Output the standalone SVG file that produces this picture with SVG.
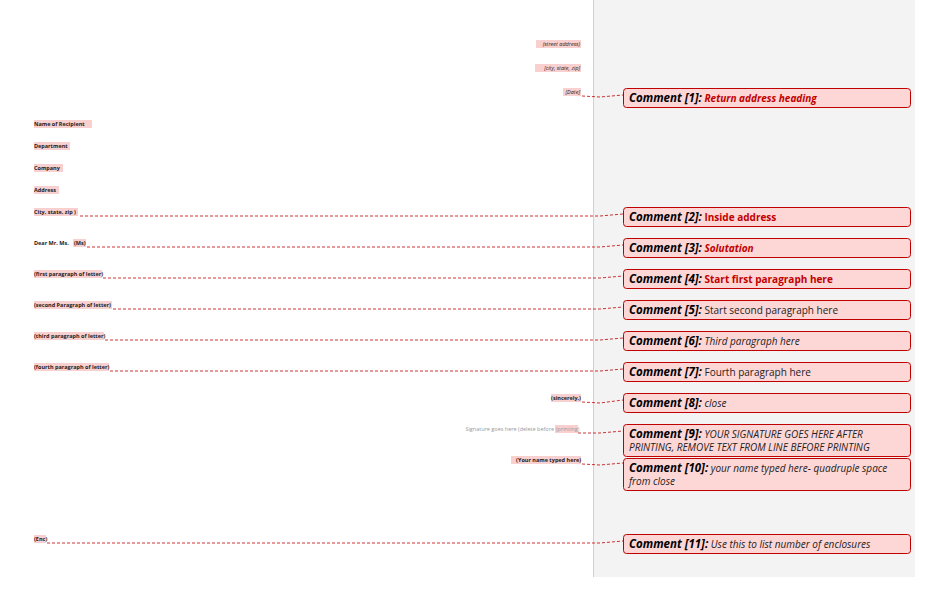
<svg xmlns="http://www.w3.org/2000/svg" width="930" height="591" viewBox="0 0 930 591">
<style>
.t{font-family:"Open Sans","DejaVu Sans",sans-serif;font-size:5.5px;fill:#222;font-weight:bold}
.i{font-style:italic;font-weight:normal}
.hl{fill:#f9d0d0}
.box{fill:#fdd6d6;stroke:#c00000;stroke-width:1}
.c{font-family:"Open Sans","DejaVu Sans",sans-serif;font-size:10px;fill:#222;font-style:italic}
.ck{font-weight:bold;font-size:11.5px;fill:#000}
.red{fill:#c00000;font-weight:bold}
.ln{fill:none;stroke:#c00000;stroke-width:0.8;stroke-dasharray:3,2}
</style>
<rect width="930" height="591" fill="#fff"/>
<rect x="593" y="0" width="322" height="577" fill="#f3f3f3"/>
<line x1="593.5" y1="0" x2="593.5" y2="577" stroke="#d0d0d0"/>
<g id="doc">
<rect class="hl" x="536" y="40" width="45" height="8"/><text class="t i" x="580" y="46" text-anchor="end">(street address)</text>
<rect class="hl" x="535" y="64" width="46" height="8"/><text class="t i" x="580" y="70" text-anchor="end">[city, state, zip]</text>
<rect class="hl" x="563" y="88" width="18" height="8"/><text class="t i" x="580" y="94" text-anchor="end">[Date]</text>
<rect class="hl" x="34" y="120" width="58" height="8"/><text class="t" x="34" y="126">Name of Recipient</text>
<rect class="hl" x="34" y="142" width="36" height="8"/><text class="t" x="34" y="148">Department</text>
<rect class="hl" x="34" y="164" width="29" height="8"/><text class="t" x="34" y="170">Company</text>
<rect class="hl" x="34" y="186" width="25" height="8"/><text class="t" x="34" y="192">Address</text>
<rect class="hl" x="34" y="208" width="44" height="8"/><text class="t" x="34" y="214">City, state, zip  )</text>
<text class="t" x="34" y="245">Dear Mr. Ms.</text><rect class="hl" x="73" y="239" width="13" height="8"/><text class="t" x="74" y="245">(Ms)</text>
<rect class="hl" x="34" y="270" width="68" height="8"/><text class="t" x="34" y="276">(first paragraph of letter)</text>
<rect class="hl" x="34" y="301" width="78" height="8"/><text class="t" x="34" y="307">(second Paragraph of letter)</text>
<rect class="hl" x="34" y="332" width="70" height="8"/><text class="t" x="34" y="338">(third paragraph of letter)</text>
<rect class="hl" x="34" y="363" width="75" height="8"/><text class="t" x="34" y="369">(fourth paragraph of letter)</text>
<rect class="hl" x="551" y="394" width="30" height="8"/><text class="t" x="581" y="400" text-anchor="end">(sincerely,)</text>
<text class="t" x="554" y="431" text-anchor="end" style="fill:#999;font-weight:normal">Signature goes here (delete before</text><rect class="hl" x="555" y="425" width="23" height="8"/><text class="t" x="556" y="431" style="fill:#999;font-weight:normal">(printing)</text>
<rect class="hl" x="511" y="456" width="70" height="8"/><text class="t" x="581" y="462" text-anchor="end">(Your name typed here)</text>
<rect class="hl" x="34" y="535" width="12" height="8"/><text class="t" x="34" y="541">(Enc)</text>
</g>
<g id="connectors">
<path class="ln" d="M582 96 L600 97 L623 95"/>
<path class="ln" d="M80 216 L600 216 L623 214"/>
<path class="ln" d="M87 247 L600 247 L623 245"/>
<path class="ln" d="M103 278 L600 278 L623 276"/>
<path class="ln" d="M113 309 L600 309 L623 307"/>
<path class="ln" d="M105 340 L600 340 L623 338"/>
<path class="ln" d="M110 371 L600 371 L623 369"/>
<path class="ln" d="M582 402 L600 403 L623 400"/>
<path class="ln" d="M578 433 L600 433 L623 431"/>
<path class="ln" d="M582 464 L600 465 L623 463"/>
<path class="ln" d="M47 543 L600 543 L623 541"/>
</g>
<g id="c1"><rect class="box" x="623.5" y="88.5" width="287" height="19" rx="3"/><text class="c" x="629" y="102"><tspan class="ck">Comment [1]:</tspan> <tspan class="red">Return address heading</tspan></text></g>
<g id="c2"><rect class="box" x="623.5" y="207.5" width="287" height="19" rx="3"/><text class="c" x="629" y="221"><tspan class="ck">Comment [2]:</tspan>  <tspan class="red" style="font-style:normal">Inside address</tspan></text></g>
<g id="c3"><rect class="box" x="623.5" y="238.5" width="287" height="19" rx="3"/><text class="c" x="629" y="252"><tspan class="ck">Comment [3]:</tspan> <tspan class="red">Solutation</tspan></text></g>
<g id="c4"><rect class="box" x="623.5" y="269.5" width="287" height="19" rx="3"/><text class="c" x="629" y="283"><tspan class="ck">Comment [4]:</tspan> <tspan class="red" style="font-style:normal">Start first paragraph here</tspan></text></g>
<g id="c5"><rect class="box" x="623.5" y="300.5" width="287" height="19" rx="3"/><text class="c" x="629" y="314"><tspan class="ck">Comment [5]:</tspan> <tspan style="font-style:normal">Start second paragraph here</tspan></text></g>
<g id="c6"><rect class="box" x="623.5" y="331.5" width="287" height="19" rx="3"/><text class="c" x="629" y="345"><tspan class="ck">Comment [6]:</tspan> Third paragraph here</text></g>
<g id="c7"><rect class="box" x="623.5" y="362.5" width="287" height="19" rx="3"/><text class="c" x="629" y="376"><tspan class="ck">Comment [7]:</tspan> <tspan style="font-style:normal">Fourth paragraph here</tspan></text></g>
<g id="c8"><rect class="box" x="623.5" y="393.5" width="287" height="19" rx="3"/><text class="c" x="629" y="407"><tspan class="ck">Comment [8]:</tspan> close</text></g>
<g id="c9"><rect class="box" x="623.5" y="424.5" width="287" height="32" rx="3"/><text class="c" x="629" y="438"><tspan class="ck">Comment [9]:</tspan> YOUR SIGNATURE GOES HERE AFTER</text><text class="c" x="629" y="451">PRINTING, REMOVE TEXT FROM LINE BEFORE PRINTING</text></g>
<g id="c10"><rect class="box" x="623.5" y="458.5" width="287" height="32" rx="3"/><text class="c" x="629" y="472"><tspan class="ck">Comment [10]:</tspan> your name typed here- quadruple space</text><text class="c" x="629" y="485">from close</text></g>
<g id="c11"><rect class="box" x="623.5" y="534.5" width="287" height="19" rx="3"/><text class="c" x="629" y="548"><tspan class="ck">Comment [11]:</tspan> Use this to list number of enclosures</text></g>
</svg>
